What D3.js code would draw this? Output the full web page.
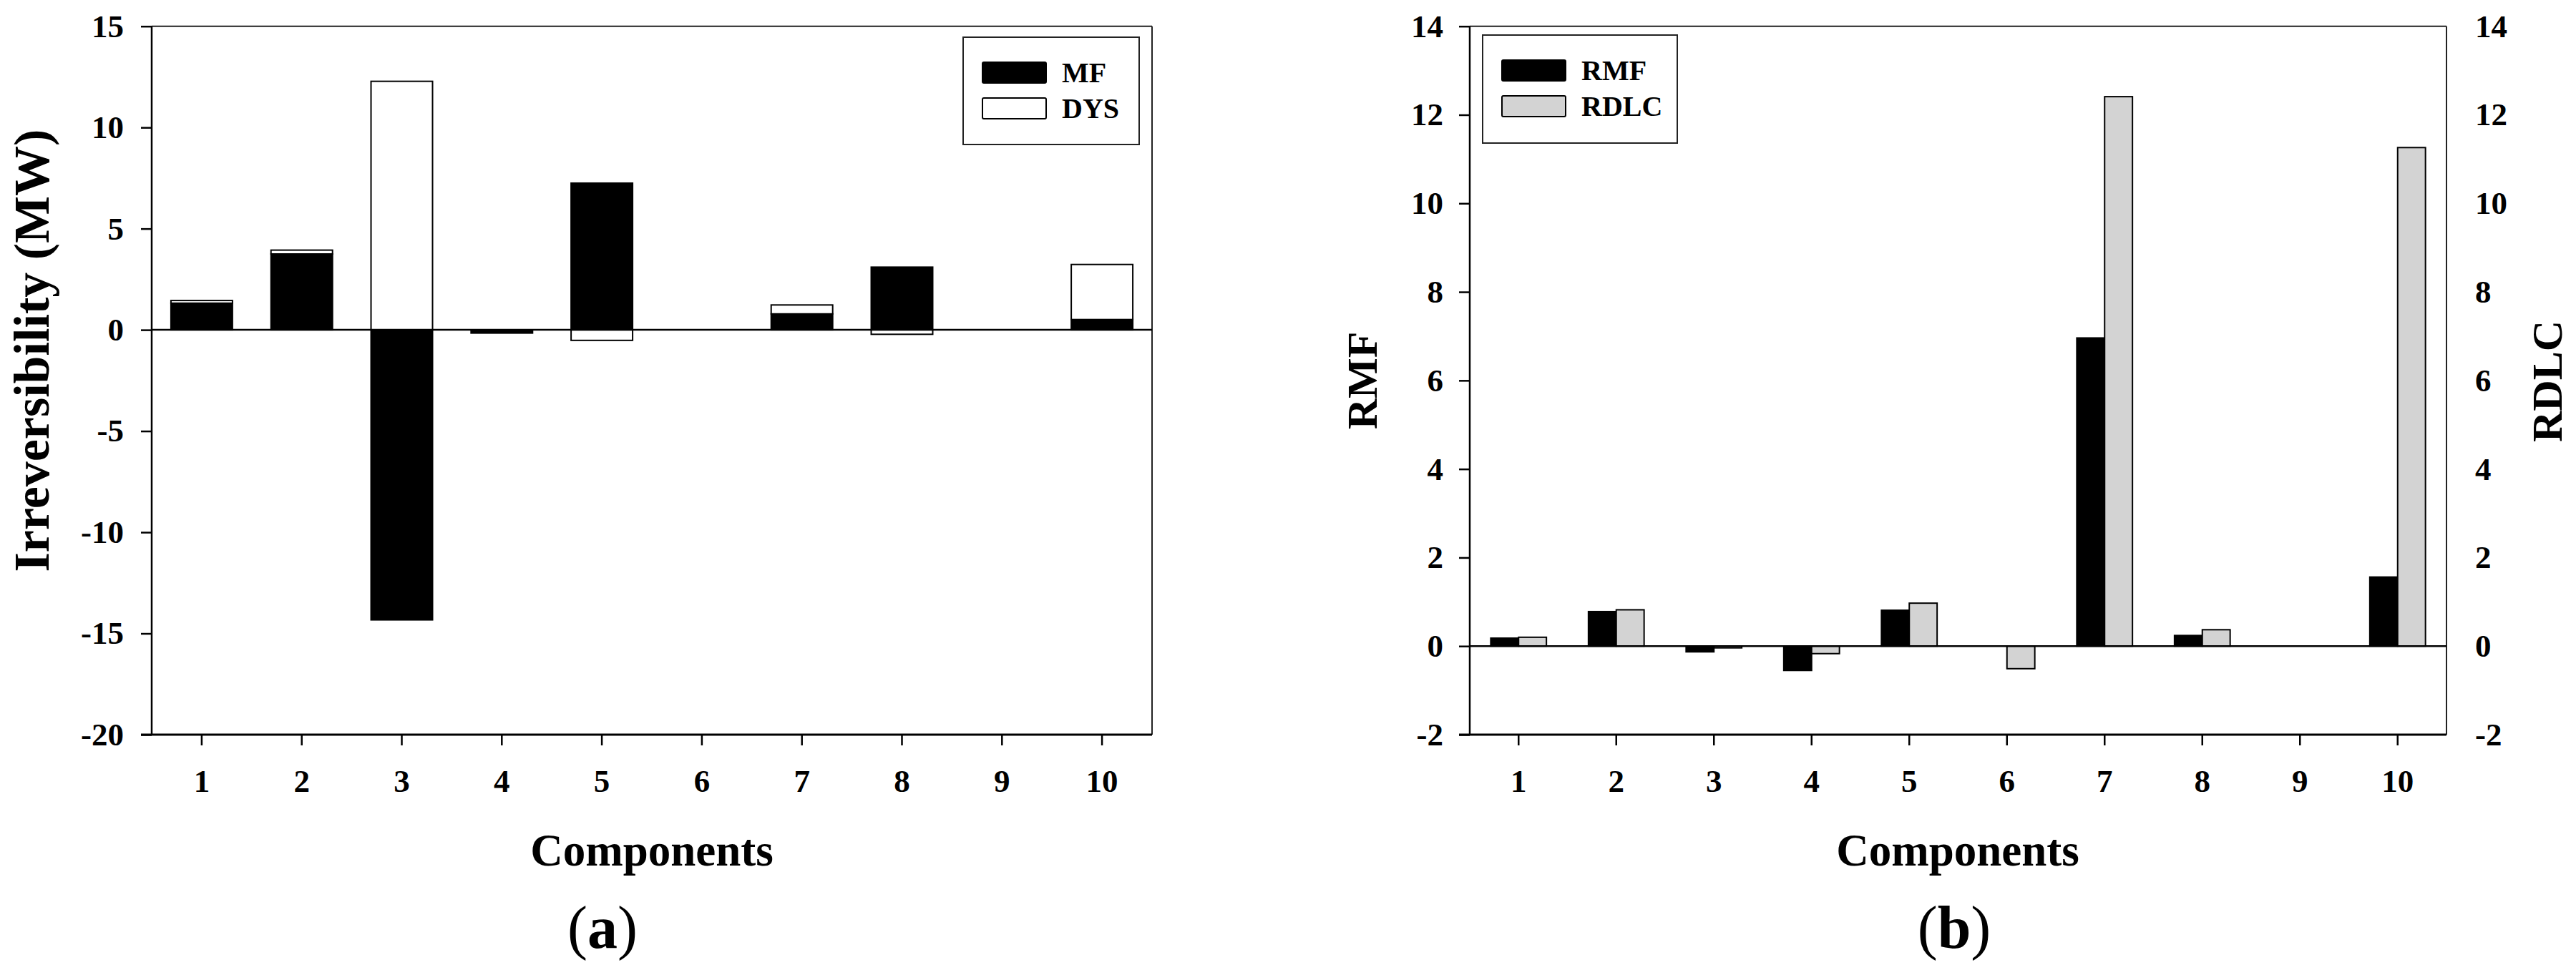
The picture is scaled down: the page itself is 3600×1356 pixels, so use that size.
<!DOCTYPE html>
<html>
<head>
<meta charset="utf-8">
<script src="https://cdn.jsdelivr.net/npm/d3@7"></script>
<style>
  body { margin: 0; background: #fff; }
  text { font-family: "Liberation Serif", "Times New Roman", serif; fill: #000; }
</style>
</head>
<body>
<div id="chart"></div>
<script>
// data
const components = ["1", "2", "3", "4", "5", "6", "7", "8", "9", "10"];
const mf = [1.32, 3.75, -14.33, -0.16, 7.25, 0, 0.79, 3.1, 0, 0.51];
const dys = [0.13, 0.19, 12.28, 0, -0.52, 0, 0.44, -0.22, 0, 2.72];
const rmf = [0.18, 0.78, -0.13, -0.55, 0.81, 0, 6.96, 0.24, 0, 1.56];
const rdlc = [0.2, 0.82, -0.04, -0.17, 0.97, -0.51, 12.41, 0.37, 0, 11.26];
const ticksA = [-20, -15, -10, -5, 0, 5, 10, 15];
const ticksB = [-2, 0, 2, 4, 6, 8, 10, 12, 14];

const width = 3600,
  height = 1356;
const plotTop = 36.7,
  plotBottom = 1027;

const svg = d3
  .select("#chart")
  .append("svg")
  .attr("width", width)
  .attr("height", height);

svg.append("rect").attr("width", width).attr("height", height).attr("fill", "#fff");

// plain hyphen for negatives, like the original
const fmt = (d) => String(d);

const tickFont = (g) =>
  g.selectAll("text").style("font-size", "45px").style("font-weight", "bold");

// frame: heavy left/bottom axis, thin top/right
const drawFrame = (x0, x1, y) => {
  const g = svg.append("g");
  g.append("line").attr("x1", x0).attr("x2", x1).attr("y1", plotTop).attr("y2", plotTop)
    .attr("stroke", "#222").attr("stroke-width", 2);
  g.append("line").attr("x1", x1).attr("x2", x1).attr("y1", plotTop).attr("y2", plotBottom)
    .attr("stroke", "#222").attr("stroke-width", 2);
  g.append("line").attr("x1", x0).attr("x2", x0).attr("y1", plotTop).attr("y2", plotBottom)
    .attr("stroke", "#000").attr("stroke-width", 2.5);
  g.append("line").attr("x1", x0 - 15).attr("x2", x1).attr("y1", plotBottom).attr("y2", plotBottom)
    .attr("stroke", "#000").attr("stroke-width", 3);
  // zero line
  g.append("line").attr("x1", x0).attr("x2", x1).attr("y1", y(0)).attr("y2", y(0))
    .attr("stroke", "#000").attr("stroke-width", 2.5);
};

const legend = (x, y, w, h, items) => {
  const g = svg.append("g");
  g.append("rect").attr("x", x).attr("y", y).attr("width", w).attr("height", h)
    .attr("fill", "#fff").attr("stroke", "#222").attr("stroke-width", 2);
  items.forEach((d, i) => {
    g.append("rect")
      .attr("x", x + 27).attr("y", y + 35 + i * 50)
      .attr("width", 89).attr("height", 29).attr("rx", 2)
      .attr("fill", d.fill).attr("stroke", "#000").attr("stroke-width", 2);
    g.append("text")
      .attr("x", x + 138).attr("y", y + 63 + i * 50)
      .style("font-size", "40px").style("font-weight", "bold")
      .text(d.name);
  });
};

// ---------- (a) stacked bars ----------
const xA = d3.scaleBand().domain(components).range([212, 1610])
  .paddingInner(0.385).paddingOuter(0.1925);
const yA = d3.scaleLinear().domain([-20, 15]).range([plotBottom, plotTop]);

const rowsA = components.map((c, i) => ({ c, MF: mf[i], DYS: dys[i] }));
const stackA = d3.stack().keys(["MF", "DYS"]).offset(d3.stackOffsetDiverging)(rowsA);
const fillA = { MF: "#000", DYS: "#fff" };

svg.append("g")
  .selectAll("g")
  .data(stackA)
  .join("g")
  .attr("fill", (s) => fillA[s.key])
  .selectAll("rect")
  .data((s) => s.filter((d) => d[1] - d[0] !== 0))
  .join("rect")
  .attr("x", (d) => xA(d.data.c))
  .attr("width", xA.bandwidth())
  .attr("y", (d) => yA(d[1]))
  .attr("height", (d) => yA(d[0]) - yA(d[1]))
  .attr("stroke", "#000")
  .attr("stroke-width", 2);

drawFrame(212, 1610, yA);

svg.append("g")
  .attr("transform", `translate(212,0)`)
  .call(d3.axisLeft(yA).tickValues(ticksA).tickFormat(fmt).tickSize(15).tickSizeOuter(0).tickPadding(24))
  .call((g) => g.select(".domain").remove())
  .call((g) => g.selectAll("line").attr("stroke-width", 2.5))
  .call(tickFont);

svg.append("g")
  .attr("transform", `translate(0,${plotBottom})`)
  .call(d3.axisBottom(xA).tickSize(15).tickSizeOuter(0).tickPadding(33))
  .call((g) => g.select(".domain").remove())
  .call((g) => g.selectAll("line").attr("stroke-width", 2.5))
  .call(tickFont);

legend(1346, 52, 246, 150, [
  { name: "MF", fill: "#000" },
  { name: "DYS", fill: "#fff" },
]);

svg.append("text")
  .attr("transform", "translate(68,490) rotate(-90)")
  .attr("text-anchor", "middle")
  .style("font-size", "70px").style("font-weight", "bold")
  .text("Irreversibility (MW)");

// ---------- (b) grouped bars ----------
const xB = d3.scaleBand().domain(components).range([2054, 3419])
  .paddingInner(0.43).paddingOuter(0.215);
const sub = d3.scaleBand().domain(["RMF", "RDLC"]).range([0, xB.bandwidth()]);
const yB = d3.scaleLinear().domain([-2, 14]).range([plotBottom, plotTop]);

const rowsB = components.map((c, i) => ({ c, RMF: rmf[i], RDLC: rdlc[i] }));
const fillB = { RMF: "#000", RDLC: "#d3d3d3" };

svg.append("g")
  .selectAll("g")
  .data(rowsB)
  .join("g")
  .attr("transform", (d) => `translate(${xB(d.c)},0)`)
  .selectAll("rect")
  .data((d) => ["RMF", "RDLC"].map((k) => ({ k, v: d[k] })).filter((e) => e.v !== 0))
  .join("rect")
  .attr("x", (e) => sub(e.k))
  .attr("width", sub.bandwidth())
  .attr("y", (e) => yB(Math.max(0, e.v)))
  .attr("height", (e) => Math.abs(yB(e.v) - yB(0)))
  .attr("fill", (e) => fillB[e.k])
  .attr("stroke", "#000")
  .attr("stroke-width", 2);

drawFrame(2054, 3419, yB);

svg.append("g")
  .attr("transform", `translate(2054,0)`)
  .call(d3.axisLeft(yB).tickValues(ticksB).tickFormat(fmt).tickSize(15).tickSizeOuter(0).tickPadding(22))
  .call((g) => g.select(".domain").remove())
  .call((g) => g.selectAll("line").attr("stroke-width", 2.5))
  .call(tickFont);

svg.append("g")
  .attr("transform", `translate(3419,0)`)
  .call(d3.axisRight(yB).tickValues(ticksB).tickFormat(fmt).tickSize(0).tickPadding(40))
  .call((g) => g.select(".domain").remove())
  .call(tickFont);

svg.append("g")
  .attr("transform", `translate(0,${plotBottom})`)
  .call(d3.axisBottom(xB).tickSize(15).tickSizeOuter(0).tickPadding(33))
  .call((g) => g.select(".domain").remove())
  .call((g) => g.selectAll("line").attr("stroke-width", 2.5))
  .call(tickFont);

legend(2072, 49, 272, 151, [
  { name: "RMF", fill: "#000" },
  { name: "RDLC", fill: "#d3d3d3" },
]);

svg.append("text")
  .attr("transform", "translate(1924,532) rotate(-90)")
  .attr("text-anchor", "middle")
  .style("font-size", "60px").style("font-weight", "bold")
  .text("RMF");

svg.append("text")
  .attr("transform", "translate(3580,533) rotate(-90)")
  .attr("text-anchor", "middle")
  .style("font-size", "60px").style("font-weight", "bold")
  .text("RDLC");

// ---------- axis titles and panel letters ----------
[
  { cx: 911, letter: "a", pcx: 842 },
  { cx: 2736, letter: "b", pcx: 2731 },
].forEach((p) => {
  svg.append("text")
    .attr("x", p.cx).attr("y", 1210)
    .attr("text-anchor", "middle")
    .style("font-size", "63px").style("font-weight", "bold")
    .text("Components");

  const t = svg.append("text")
    .attr("x", p.pcx).attr("y", 1325)
    .attr("text-anchor", "middle")
    .style("font-size", "84px");
  t.append("tspan").text("(");
  t.append("tspan").style("font-weight", "bold").text(p.letter);
  t.append("tspan").text(")");
});
</script>
</body>
</html>
